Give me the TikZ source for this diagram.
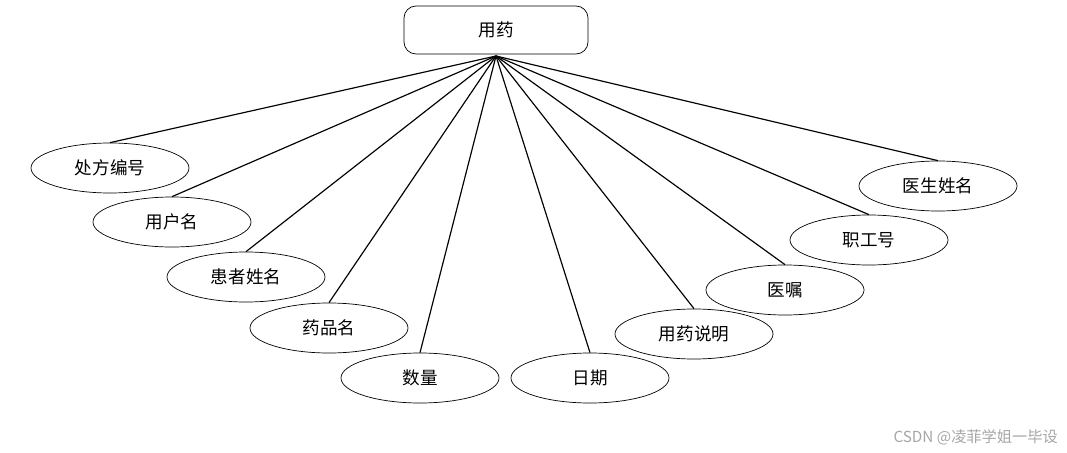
\documentclass[tikz,border=0pt]{standalone}
\usepackage{fontspec}
\newfontfamily\cjk{Noto Sans CJK SC}
\usetikzlibrary{shapes.geometric}
\begin{document}
\begin{tikzpicture}[x=0.03cm,y=-0.03cm,
  attr/.style={ellipse,draw,line width=0.6pt,minimum width=4.74cm,minimum height=1.5cm,inner sep=0pt,font=\cjk\fontsize{15}{18}\selectfont},
  ent/.style={rectangle,rounded corners=0.36cm,draw,line width=0.6pt,minimum width=5.52cm,minimum height=1.44cm,font=\cjk\fontsize{15}{18}\selectfont},
  conn/.style={line width=1pt}]
\useasboundingbox (0,0) rectangle (1067,453);
\node[ent] (e) at (496,30) {用药};
\coordinate (ap) at (496,56);
\node[attr] (a1) at (110,168) {处方编号};
\node[attr] (a2) at (172,222) {用户名};
\node[attr] (a3) at (246,277) {患者姓名};
\node[attr] (a4) at (329,328) {药品名};
\node[attr] (a5) at (420,378) {数量};
\node[attr] (a6) at (590,378) {日期};
\node[attr] (a7) at (694,334) {用药说明};
\node[attr] (a8) at (785,290) {医嘱};
\node[attr] (a9) at (869,240) {职工号};
\node[attr] (a10) at (938,186) {医生姓名};
\foreach \n in {a1,a2,a3,a4,a5,a6,a7,a8,a9,a10} \draw[conn] (ap) -- (\n.north);
\node[font=\cjk\fontsize{13}{15}\selectfont,text=gray!70,anchor=east] (wm) at (1062,437) {CSDN @凌菲学姐一毕设};
\end{tikzpicture}
\end{document}
